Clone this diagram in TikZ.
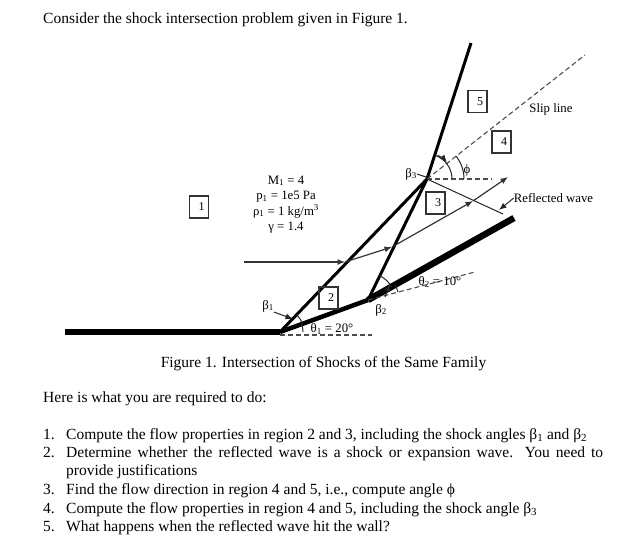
\documentclass[tikz,border=0pt]{standalone}
\usepackage{xcolor}
\usepackage{fontspec}
\setmainfont{Liberation Serif}
\usepackage{tikz}
\usetikzlibrary{arrows.meta}
\definecolor{flowgray}{gray}{0.2}
\tikzset{
  line_t/.style = {inner sep=0pt, anchor=base west, font=\fontsize{15.5}{18}\selectfont},
  lbl_t/.style = {inner sep=0pt, align=center, font=\fontsize{12.8}{15.5}\selectfont},% small labels
  reg_n/.style = {rectangle, draw=flowgray, line width=1.1pt, minimum height=22pt,
    text width=11pt, inner xsep=4pt, inner ysep=0pt, align=right,
    font=\fontsize{12}{12}\selectfont},% region box
  wall_l/.style = {line width=#1, line cap=butt},
  shock_l/.style = {line width=3pt},
  flow_l/.style = {->, color=flowgray, line width=1.2pt},
  thin_l/.style = {color=black!85, line width=1pt},
  dash_l/.style = {dashed, color=black!70, line width=1.1pt, dash pattern=on 5pt off 3pt}
}
\begin{document}
\begin{tikzpicture}[x=1pt,y=1pt,>={Latex[length=7.5pt,width=6pt]}]
\useasboundingbox (0,0) rectangle (623,-537);
% geometry
\coordinate (wall_a) at (65,-332);
\coordinate (corner) at (280,-332);
\coordinate (kink) at (368,-300);
\coordinate (wall_b) at (514,-218);
\coordinate (triple) at (427,-179);
\coordinate (shock_top) at (471,-43);
\coordinate (slip_end) at (585,-55);
\coordinate (refl_end) at (503,-214);
\coordinate (horiz_end) at (492,-179);
\coordinate (horiz_low) at (372,-335);
\coordinate (corner_low) at (280,-335);
\coordinate (kink_end) at (475,-272);
\coordinate (flow_a) at (244,-262);
\coordinate (flow_b) at (345,-262);
\coordinate (flow_c) at (392,-247);
\coordinate (flow_d) at (473,-201);
\coordinate (flow_e) at (508,-177);
% wall
\draw [wall_l=5.5pt] (wall_a) -- (corner);
\draw [wall_l=4.5pt] (corner) -- (kink);
\draw [wall_l=6.5pt] (kink) -- (wall_b);
% shocks
\draw [shock_l] (corner) -- (triple);
\draw [shock_l] (kink) -- (triple) -- (shock_top);
% dashed lines
\draw [dash_l] (triple) -- (slip_end);
\draw [dash_l] (triple) -- (horiz_end);
\draw [dash_l] (corner_low) -- (horiz_low);
\draw [dash_l] (kink) -- (kink_end);
% flow line
\draw [flow_l] (flow_a) -- (flow_b);
\draw [flow_l] (flow_b) -- (flow_c);
\draw [flow_l] (flow_c) -- (flow_d);
\draw [flow_l] (flow_d) -- (flow_e);
\draw [thin_l] (triple) -- (refl_end);
% angle arcs
\draw [thin_l] ([shift={(0:25pt)}]triple) arc [start angle=0, end angle=72, radius=25pt];
\draw [thin_l] ([shift={(0:37pt)}]triple) arc [start angle=0, end angle=38, radius=37pt];
\draw [thin_l,->] ([shift={(66:26pt)}]triple) arc [start angle=66, end angle=40, radius=26pt];
\draw [thin_l] ([shift={(0:23pt)}]corner) arc [start angle=0, end angle=20, radius=23pt];
\draw [thin_l] ([shift={(20:24pt)}]corner) arc [start angle=20, end angle=47, radius=24pt];
\draw [thin_l] ([shift={(64:27pt)}]kink) arc [start angle=64, end angle=28, radius=27pt];
\draw [thin_l] ([shift={(15:31pt)}]kink) arc [start angle=15, end angle=29, radius=31pt];
% region boxes
\node [reg_n] (reg1) at (199,-207) {1};
\node [reg_n] (reg2) at (328.5,-298) {2};
\node [reg_n] (reg3) at (435.5,-203) {3};
\node [reg_n] (reg4) at (501.5,-142) {4};
\node [reg_n] (reg5) at (477.5,-101.5) {5};
% labels
\node [lbl_t] (inflow) at (286,-204.5) {M\textsubscript{1} = 4\\p\textsubscript{1} = 1e5 Pa\\ρ\textsubscript{1} = 1 kg/m\textsuperscript{3}\\γ = 1.4};
\node [lbl_t] (slip) at (551,-109) {Slip line};
\node [lbl_t] (refl) at (553.5,-198) {Reflected wave};
\node [lbl_t] (beta3) at (411,-174) {β\textsubscript{3}};
\node [lbl_t] (phi) at (467,-170) {ϕ};
\node [lbl_t] (beta1) at (268,-306) {β\textsubscript{1}};
\node [lbl_t] (beta2) at (381,-310) {β\textsubscript{2}};
\node [lbl_t] (theta1) at (332,-329) {θ\textsubscript{1} = 20°};
\node [lbl_t] (theta2) at (440,-282) {θ\textsubscript{2} = 10°};
% leaders
\coordinate (refl_tip) at (499,-210);
\coordinate (beta3_tip) at (426,-177);
\coordinate (beta1_tip) at (293,-319);
\coordinate (beta2_tip) at (390,-284);
\coordinate (beta2_tail) at (385,-297);
\draw [thin_l,->] (refl.west) -- (refl_tip);
\draw [thin_l] (beta3.east) -- (beta3_tip);
\draw [thin_l,->] (beta1.south east) -- (beta1_tip);
\draw [thin_l,->] (beta2_tail) -- (beta2_tip);
% text
\node [line_t] (intro) at (43,-24) {Consider the shock intersection problem given in Figure 1.};
\node [line_t,anchor=base] (caption) at (323.5,-367) {Figure 1. Intersection of Shocks of the Same Family};
\node [line_t] (todo) at (43,-402) {Here is what you are required to do:};
\node [line_t] (num1) at (43,-439) {1.};
\node [line_t] (num2) at (43,-457.5) {2.};
\node [line_t] (num3) at (43,-494) {3.};
\node [line_t] (num4) at (43,-513) {4.};
\node [line_t] (num5) at (43,-531) {5.};
\node [line_t] (item1) at (66,-439) {Compute the flow properties in region 2 and 3, including the shock angles β\textsubscript{1} and β\textsubscript{2}};
\node [line_t] (item2) at (66,-457.5) {\makebox[537pt][s]{Determine whether the reflected wave is a shock or expansion wave. You need to}};
\node [line_t] (item2b) at (66,-475.5) {provide justifications};
\node [line_t] (item3) at (66,-494) {Find the flow direction in region 4 and 5, i.e., compute angle ϕ};
\node [line_t] (item4) at (66,-513) {Compute the flow properties in region 4 and 5, including the shock angle β\textsubscript{3}};
\node [line_t] (item5) at (66,-531) {What happens when the reflected wave hit the wall?};
\end{tikzpicture}
\end{document}
